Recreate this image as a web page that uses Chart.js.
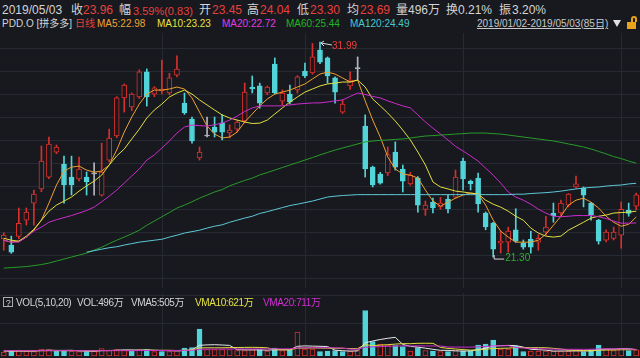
<!DOCTYPE html>
<html><head><meta charset="utf-8">
<script src="https://cdn.jsdelivr.net/npm/chart.js@4.4.1/dist/chart.umd.min.js"></script>
<style>
html,body{margin:0;padding:0;background:#17191f;width:640px;height:358px;overflow:hidden;}
#wrap{position:relative;width:640px;height:358px;background:#17191f;font-family:"Liberation Sans",Arial,"Noto Sans CJK SC",sans-serif;color:#d4d4d4;}
.t{position:absolute;white-space:nowrap;line-height:14px;}
.l1{top:3px;font-size:12px;}
.l2{top:17px;font-size:10px;}
.l3{top:296px;font-size:10px;letter-spacing:-0.4px;}
.r{color:#e8403a;}
canvas{position:absolute;left:0;}
#pc{top:33px;}
#vc{top:293px;}
#tri{position:absolute;left:613px;top:20px;width:0;height:0;border-left:4px solid transparent;border-right:4px solid transparent;border-top:7px solid #e0e0e0;}
#lockb{position:absolute;left:627px;top:22px;width:9px;height:7px;background:#e8a21c;}
#locks{position:absolute;top:16px;width:6px;height:6px;border:2px solid #e8a21c;border-bottom:none;border-radius:4px 4px 0 0;box-sizing:border-box;left:631px;}
</style></head>
<body><div id="wrap">
<canvas id="pc" width="640" height="255"></canvas>
<canvas id="vc" width="640" height="63"></canvas>

<span class="t l1" style="left:2px">2019/05/03</span>
<span class="t l1" style="left:71px">收</span><span class="t l1 r" style="left:83px">23.96</span>
<span class="t l1" style="left:119px">幅</span><span class="t l1 r" style="left:133px;font-size:11px;top:4px">3.59%(0.83)</span>
<span class="t l1" style="left:199px">开</span><span class="t l1 r" style="left:212px">23.45</span>
<span class="t l1" style="left:247px">高</span><span class="t l1 r" style="left:260px">24.04</span>
<span class="t l1" style="left:297px">低</span><span class="t l1 r" style="left:310px">23.30</span>
<span class="t l1" style="left:347px">均</span><span class="t l1 r" style="left:360px">23.69</span>
<span class="t l1" style="left:396px">量</span><span class="t l1" style="left:408px">496万</span>
<span class="t l1" style="left:446px">换</span><span class="t l1" style="left:458px">0.21%</span>
<span class="t l1" style="left:499px">振</span><span class="t l1" style="left:512px">3.20%</span>

<span class="t l2" style="left:2px">PDD.O [拼多多]</span>
<span class="t l2 r" style="left:75px">日线</span>
<span class="t l2" style="left:97px;color:#f0a232">MA5:22.98</span>
<span class="t l2" style="left:157px;color:#e6e23c">MA10:23.23</span>
<span class="t l2" style="left:222px;color:#e03ce0">MA20:22.72</span>
<span class="t l2" style="left:286px;color:#22b422">MA60:25.44</span>
<span class="t l2" style="left:350px;color:#48c8cc">MA120:24.49</span>
<span class="t l2" style="left:477px;color:#c8c8c8;text-decoration:underline">2019/01/02-2019/05/03(85日)</span>
<div id="tri"></div><div id="locks"></div><div id="lockb"></div>

<span class="t l3" style="left:3px;top:297px;width:10px;height:10px;border:1px solid #aaa;line-height:10px;text-align:center;font-size:9px;box-sizing:border-box;">?</span>
<span class="t l3" style="left:16px">VOL(5,10,20)</span>
<span class="t l3" style="left:77px">VOL:496万</span>
<span class="t l3" style="left:131px">VMA5:505万</span>
<span class="t l3" style="left:195px;color:#e6e23c">VMA10:621万</span>
<span class="t l3" style="left:263px;color:#d030d0">VMA20:711万</span>

<span id="hiLbl" class="t r" style="font-size:10px"></span>
<span id="loLbl" class="t" style="font-size:10px;color:#28b428"></span>
</div>
<script>
// ---------- data ----------
const dates = ["01-02","01-03","01-04","01-07","01-08","01-09","01-10","01-11","01-14","01-15","01-16","01-17","01-18","01-22","01-23","01-24","01-25","01-28","01-29","01-30","01-31",
"02-01","02-04","02-05","02-06","02-07","02-08","02-11","02-12","02-13","02-14","02-15","02-19","02-20","02-21","02-22","02-25","02-26","02-27","02-28",
"03-01","03-04","03-05","03-06","03-07","03-08","03-11","03-12","03-13","03-14","03-15","03-18","03-19","03-20","03-21","03-22","03-25","03-26","03-27","03-28","03-29",
"04-01","04-02","04-03","04-04","04-05","04-08","04-09","04-10","04-11","04-12","04-15","04-16","04-17","04-18","04-22","04-23","04-24","04-25","04-26","04-29","04-30",
"05-01","05-02","05-03"];

const opens = [22.04,21.79,22.15,22.84,23.59,24.23,24.78,25.98,25.40,24.78,
24.69,24.78,24.97,23.95,25.59,26.78,28.78,28.29,28.83,30.23,
28.99,29.16,29.05,30.05,28.50,27.65,25.69,26.80,27.24,27.45,
26.94,27.13,27.55,29.38,29.44,29.05,30.68,28.61,28.99,29.22,
30.28,30.17,31.51,31.04,29.89,28.02,29.44,30.45,27.29,25.25,
24.92,24.97,25.98,25.16,24.46,24.73,23.31,23.64,23.42,23.77,
23.85,25.54,24.59,24.73,23.15,22.71,21.87,21.91,22.43,21.87,
22.03,21.91,22.33,23.15,23.15,23.50,24.32,24.27,23.59,22.84,
21.99,22.07,22.20,23.27,23.45];
const highs = [22.30,22.16,23.37,23.37,24.18,26.28,26.73,26.33,25.78,25.78,
25.73,25.02,25.45,26.42,27.13,28.85,29.55,29.05,30.35,30.40,
29.40,30.92,30.15,31.16,29.05,27.75,26.23,27.76,27.76,27.87,
27.35,27.60,29.60,30.00,29.60,29.44,31.04,29.22,29.49,30.02,
30.74,31.90,31.99,31.10,29.95,28.67,30.23,31.10,27.87,25.30,
25.00,26.23,26.48,25.35,25.00,24.80,23.68,23.81,23.85,23.95,
25.11,25.69,24.64,24.97,23.20,22.75,22.37,22.54,23.34,22.00,
22.37,22.22,23.01,23.59,23.72,24.02,24.83,24.32,23.62,22.88,
22.43,22.54,23.64,23.59,24.04];
const lows = [21.58,21.45,22.05,22.63,22.63,24.10,24.70,25.90,23.59,23.95,
24.60,23.95,23.95,23.90,25.50,26.70,28.02,28.10,28.75,28.34,
28.85,29.00,28.95,29.95,27.90,26.42,25.59,26.73,26.73,26.58,
26.68,26.98,27.45,29.05,28.23,28.95,28.99,28.40,28.45,29.05,
29.90,30.10,30.70,29.60,28.50,27.95,29.25,29.77,24.78,24.32,
24.45,24.85,25.11,24.09,24.40,23.19,23.05,23.15,23.31,23.15,
23.80,24.18,24.18,23.19,22.43,21.30,21.46,21.50,21.90,21.62,
21.46,21.58,22.20,22.75,23.05,23.42,24.28,23.42,22.84,21.83,
21.92,22.00,21.66,23.01,23.30];
const closes = [22.20,21.50,22.70,23.19,24.00,25.54,26.38,26.23,24.41,24.41,
25.16,24.55,24.93,25.02,26.68,28.78,29.49,28.99,30.23,28.83,
29.33,29.27,29.89,30.40,27.97,26.53,25.98,26.78,26.98,26.98,
27.08,27.50,29.10,29.27,28.50,29.38,29.05,29.05,28.56,29.95,
30.00,31.10,30.80,30.00,29.10,28.45,29.77,30.42,25.16,24.41,
24.50,25.85,25.25,24.59,24.87,23.50,23.50,23.38,23.59,23.34,
24.78,24.69,24.46,23.55,22.55,21.62,21.95,22.37,21.95,21.70,
21.70,22.07,22.54,23.03,23.59,24.00,24.46,23.95,23.08,21.95,
22.33,22.33,23.31,23.13,23.96];

const ma5 = [21.99,21.91,21.95,22.12,22.41,22.84,23.59,24.41,25.06,25.25,
25.30,25.11,25.01,25.06,25.35,26.08,26.98,27.76,28.45,28.99,
29.21,29.21,29.27,29.38,29.27,28.78,28.02,27.29,26.88,26.68,
26.73,26.98,27.50,27.92,28.35,28.72,28.99,29.10,29.21,29.38,
29.55,29.83,30.11,30.22,30.11,29.89,29.66,29.77,28.62,27.60,
26.73,25.74,25.16,24.92,24.87,24.73,24.18,23.68,23.45,23.63,
23.81,23.95,24.04,24.00,23.50,22.84,22.37,22.12,21.91,21.91,
21.91,21.99,22.24,22.62,23.01,23.50,23.72,23.81,23.63,23.37,
23.01,22.75,22.58,22.66,22.98];
const ma10 = [22.07,21.99,21.95,22.16,22.45,22.84,23.23,23.50,23.68,23.86,
24.13,24.37,24.59,24.87,25.35,25.79,26.13,26.63,27.13,27.71,
28.13,28.45,28.83,29.05,29.21,28.99,28.67,28.40,28.13,27.87,
27.71,27.60,27.50,27.42,27.44,27.60,27.92,28.24,28.56,28.83,
29.10,29.27,29.44,29.55,29.60,29.66,29.66,29.77,29.38,28.72,
28.35,27.97,27.55,27.08,26.58,25.98,25.35,24.55,24.32,24.23,
24.13,24.09,24.04,24.00,23.72,23.54,23.41,23.23,23.01,22.84,
22.50,22.29,22.16,22.12,22.16,22.41,22.58,22.75,22.93,23.01,
23.06,23.15,23.17,23.19,23.23];
const ma20 = [21.99,21.91,21.91,22.12,22.37,22.54,22.75,22.86,22.95,23.04,
23.15,23.26,23.41,23.65,23.90,24.18,24.50,24.83,25.16,25.59,
25.84,26.18,26.53,26.93,27.24,27.34,27.31,27.29,27.36,27.44,
27.60,27.81,28.05,28.24,28.35,28.35,28.35,28.35,28.40,28.45,
28.48,28.51,28.51,28.56,28.62,28.67,28.86,29.05,28.97,28.86,
28.78,28.62,28.48,28.35,28.24,27.87,27.50,27.18,26.88,26.58,
26.26,26.03,25.79,25.54,25.20,24.87,24.50,24.09,23.86,23.72,
23.54,23.32,23.15,23.01,22.99,23.01,23.04,23.04,23.04,22.99,
22.91,22.80,22.71,22.71,22.72];
const ma60 = [20.86,20.88,20.90,20.92,20.96,21.00,21.06,21.14,21.22,21.30,
21.38,21.46,21.58,21.70,21.85,21.99,22.12,22.26,22.41,22.62,
22.80,22.99,23.17,23.37,23.50,23.65,23.81,23.95,24.09,24.20,
24.37,24.50,24.62,24.73,24.88,24.99,25.11,25.23,25.35,25.47,
25.59,25.71,25.84,25.96,26.08,26.18,26.28,26.38,26.48,26.53,
26.56,26.58,26.61,26.63,26.68,26.73,26.78,26.80,26.83,26.85,
26.88,26.90,26.93,26.93,26.93,26.90,26.88,26.83,26.78,26.73,
26.68,26.63,26.58,26.53,26.46,26.38,26.31,26.23,26.13,26.01,
25.89,25.76,25.66,25.54,25.44];
const ma120 = [null,null,null,null,null,null,null,null,null,null,
null,21.50,21.56,21.62,21.68,21.72,21.79,21.85,21.91,21.95,
21.99,22.03,22.12,22.20,22.29,22.35,22.41,22.50,22.58,22.64,
22.75,22.84,22.93,23.01,23.13,23.21,23.30,23.39,23.48,23.54,
23.61,23.68,23.77,23.86,23.90,23.93,23.95,23.97,23.97,23.97,
23.97,23.97,23.97,23.97,23.97,23.97,23.97,23.97,23.97,23.97,
23.97,23.97,23.97,23.97,23.97,23.97,23.97,23.97,23.99,23.99,
24.02,24.04,24.06,24.09,24.13,24.18,24.23,24.27,24.30,24.32,
24.36,24.39,24.41,24.46,24.49];

// volume in 万 shares
const volumes = [320,400,480,400,360,560,520,400,400,400,
360,360,400,600,440,520,480,400,520,520,
360,360,360,440,640,680,2160,520,520,520,
520,440,440,520,520,400,640,440,480,1920,
560,560,360,400,440,360,400,440,3640,1160,
960,880,840,760,400,680,440,400,360,360,
480,400,440,880,960,1280,560,560,800,360,
400,400,400,400,400,400,440,360,520,880,
560,440,600,430,496];
const vma5 = [400,390,395,395,392,440,464,448,448,456,
416,384,384,424,432,464,488,488,472,488,
456,432,424,408,432,496,856,888,904,880,
848,504,488,488,488,464,504,504,496,776,
808,792,776,760,464,424,392,408,1056,1200,
1320,1416,1496,920,768,712,624,536,456,448,
408,400,408,512,632,792,824,848,832,712,
536,504,472,392,400,400,408,400,424,520,
552,552,600,582,505];
const vma10 = [420,420,420,420,420,420,427,421,421,424,
428,424,416,436,444,440,436,436,448,460,
460,460,456,440,460,476,644,656,656,656,
672,680,688,696,684,656,504,496,492,632,
636,648,640,628,620,616,592,592,908,832,
872,904,952,988,984,1016,1020,1016,688,608,
560,512,472,484,540,600,612,628,672,672,
664,664,660,612,556,468,456,436,408,460,
476,480,500,503,512];
const vma20 = [430,430,430,430,430,430,430,430,430,430,
424,422,418,428,432,430,432,428,434,442,
444,442,436,438,452,458,540,546,552,558,
566,570,572,568,572,566,574,576,574,644,
654,664,664,662,652,636,548,544,700,732,
754,776,796,808,802,816,806,804,798,720,
716,708,712,736,762,808,816,822,680,640,
612,588,566,548,548,534,534,532,540,566,
570,572,580,558,534];

// ---------- styles ----------
const BG = '#17191f', RED = '#d8302c', CYAN = '#52d4d8', GRAY = '#b4b6c0', GRID = '#262a33';
const PRICE_TOP = 33, VOL_TOP = 293;
const candleColor = i => Math.abs(closes[i]-opens[i]) < 0.05 ? GRAY : (closes[i] > opens[i] ? RED : CYAN);
const candleUp = i => closes[i] > opens[i];
const volUp = i => i === 0 ? closes[0] >= opens[0] : closes[i] >= closes[i-1];
const monthStarts = dates.map((d,i)=> i>0 && d.slice(0,2)!==dates[i-1].slice(0,2) ? i : -1).filter(i=>i>0);

function gridPlugin(hLines){
  return {
    id:'gridLines',
    beforeDatasetsDraw(chart){
      const {ctx, chartArea:a, scales:{x}} = chart;
      ctx.save();
      ctx.strokeStyle = GRID; ctx.lineWidth = 1;
      hLines.forEach(y=>{ctx.beginPath();ctx.moveTo(a.left,y+0.5);ctx.lineTo(a.right,y+0.5);ctx.stroke();});
      monthStarts.forEach(i=>{const px=Math.round(x.getPixelForValue(i))+0.5;ctx.beginPath();ctx.moveTo(px,a.top);ctx.lineTo(px,a.bottom);ctx.stroke();});
      ctx.restore();
    }
  };
}

const hiIdx = highs.indexOf(Math.max(...highs));
const loIdx = lows.indexOf(Math.min(...lows));

const markPlugin = {
  id:'marks',
  afterDatasetsDraw(chart){
    const {ctx, scales:{x,y}} = chart;
    ctx.save();
    ctx.strokeStyle = '#d8d8d8'; ctx.lineWidth = 1;
    let px = x.getPixelForValue(hiIdx), py = y.getPixelForValue(highs[hiIdx]);
    ctx.beginPath(); ctx.moveTo(px+1, py+1); ctx.lineTo(px+12, py+3); ctx.stroke();
    ctx.beginPath(); ctx.moveTo(px+1, py+1); ctx.lineTo(px+4, py-1); ctx.moveTo(px+1,py+1); ctx.lineTo(px+4, py+4); ctx.stroke();
    px = x.getPixelForValue(loIdx); py = y.getPixelForValue(lows[loIdx]);
    ctx.beginPath(); ctx.moveTo(px+1, py-2); ctx.lineTo(px+1, py+2); ctx.lineTo(px+11, py+2); ctx.stroke();
    ctx.restore();
  }
};

const common = {
  responsive:false, animation:false, events:[],
  layout:{padding:0},
  plugins:{legend:{display:false}, tooltip:{enabled:false}},
};

const lineDs = (data, color) => ({type:'line', data, borderColor:color, borderWidth:1, pointRadius:0, tension:0, order:0, spanGaps:false});

const priceChart = new Chart(document.getElementById('pc'), {
  type:'bar',
  data:{
    labels: dates,
    datasets:[
      {data: lows.map((l,i)=>[l, highs[i]]), backgroundColor: dates.map((d,i)=>candleColor(i)), barThickness:1, grouped:false, order:3},
      {data: opens.map((o,i)=>[Math.min(o,closes[i]), Math.max(o,closes[i])]),
       backgroundColor: dates.map((d,i)=> candleUp(i) ? BG : candleColor(i)),
       borderColor: dates.map((d,i)=>candleColor(i)), borderWidth:1, borderSkipped:false,
       barThickness:5, minBarLength:1, grouped:false, order:2},
      lineDs(ma120, '#5fc8d6'),
      lineDs(ma60, '#2a9a2a'),
      lineDs(ma20, '#cc2ccc'),
      lineDs(ma10, '#e2e040'),
      lineDs(ma5, '#f0a030'),
    ]
  },
  options:{...common,
    scales:{
      x:{type:'category', display:false, offset:true},
      y:{type:'logarithmic', display:false, min:20.09, max:32.54}
    }
  },
  plugins:[gridPlugin([15,38,61,84,107,130,153,176,199,222,245]), markPlugin]
});

const volChart = new Chart(document.getElementById('vc'), {
  type:'bar',
  data:{
    labels: dates,
    datasets:[
      {data: volumes, backgroundColor: dates.map((d,i)=> volUp(i) ? BG : CYAN),
       borderColor: dates.map((d,i)=> volUp(i) ? RED : CYAN), borderWidth:1, borderSkipped:false,
       barThickness:5, grouped:false, order:2},
      lineDs(vma20, '#cc2ccc'),
      lineDs(vma10, '#e2e040'),
      lineDs(vma5, '#e8e8e8'),
    ]
  },
  options:{...common,
    scales:{
      x:{type:'category', display:false, offset:true},
      y:{type:'linear', display:false, min:0, max:5040}
    }
  },
  plugins:[gridPlugin([2,30])]
});

// place extreme labels from the scales
(function(){
  const xs = priceChart.scales.x, ys = priceChart.scales.y;
  const hi = document.getElementById('hiLbl');
  hi.textContent = highs[hiIdx].toFixed(2);
  hi.style.left = (xs.getPixelForValue(hiIdx) + 12) + 'px';
  hi.style.top = (PRICE_TOP + ys.getPixelForValue(highs[hiIdx]) - 3) + 'px';
  const lo = document.getElementById('loLbl');
  lo.textContent = lows[loIdx].toFixed(2);
  lo.style.left = (xs.getPixelForValue(loIdx) + 12) + 'px';
  lo.style.top = (PRICE_TOP + ys.getPixelForValue(lows[loIdx]) - 6) + 'px';
})();
</script>
</body></html>
